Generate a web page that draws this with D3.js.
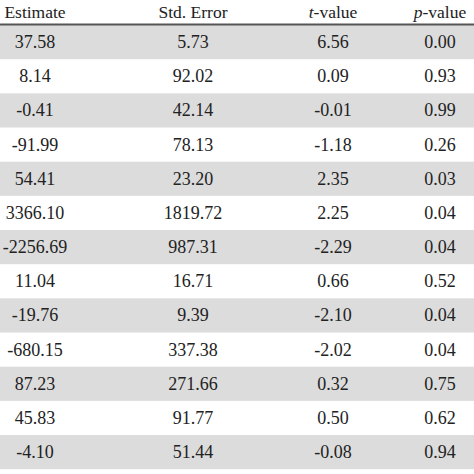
<!DOCTYPE html>
<html>
<head>
<meta charset="UTF-8">
<script src="https://d3js.org/d3.v7.min.js"></script>
<style>body{margin:0;background:#fff;} svg{display:block;}</style>
</head>
<body>
<div id="chart"></div>
<script>
// table columns
const estimate = ["37.58","8.14","-0.41","-91.99","54.41","3366.10","-2256.69","11.04","-19.76","-680.15","87.23","45.83","-4.10"];
const stdError = ["5.73","92.02","42.14","78.13","23.20","1819.72","987.31","16.71","9.39","337.38","271.66","91.77","51.44"];
const tValue = ["6.56","0.09","-0.01","-1.18","2.35","2.25","-2.29","0.66","-2.10","-2.02","0.32","0.50","-0.08"];
const pValue = ["0.00","0.93","0.99","0.26","0.03","0.04","0.04","0.52","0.04","0.04","0.75","0.62","0.94"];

const W = 474, H = 474;
const headerH = 25, rowH = 34.17;
const colX = [35, 193, 333, 440];
const font = "'Liberation Serif', 'Times New Roman', serif";

const svg = d3.select("#chart").append("svg").attr("width", W).attr("height", H);

const y = d3.scaleBand().domain(d3.range(estimate.length))
  .range([headerH, headerH + rowH * estimate.length]).padding(0);

// shaded rows
svg.selectAll("rect.row").data(d3.range(estimate.length).filter(i => i % 2 === 0))
  .enter().append("rect")
  .attr("x", 0).attr("width", W)
  .attr("y", d => y(d)).attr("height", y.bandwidth())
  .attr("fill", "#dcdcdc");

// header
const hdr = svg.selectAll("text.hdr").data([["","Estimate"],["","Std. Error"],["t","-value"],["p","-value"]])
  .enter().append("text").attr("class","hdr")
  .attr("x", (d,i) => colX[i]).attr("y", 18)
  .attr("text-anchor","middle").attr("font-family", font).attr("font-size", 17.5).attr("fill","#222");
hdr.append("tspan").attr("font-style","italic").text(d => d[0]);
hdr.append("tspan").text(d => d[1]);

svg.append("line").attr("x1",0).attr("x2",W).attr("y1",headerH-0.5).attr("y2",headerH-0.5)
  .attr("stroke","#555").attr("stroke-width",2);

const cols = [estimate, stdError, tValue, pValue];
cols.forEach((col, c) => {
  svg.selectAll("text.c" + c).data(col).enter().append("text")
    .attr("class", "c" + c)
    .attr("x", colX[c])
    .attr("y", (d,i) => y(i) + y.bandwidth()/2 + 6)
    .attr("text-anchor","middle")
    .attr("font-family", font).attr("font-size", 18).attr("fill","#222")
    .text(d => d);
});
</script>
</body>
</html>
